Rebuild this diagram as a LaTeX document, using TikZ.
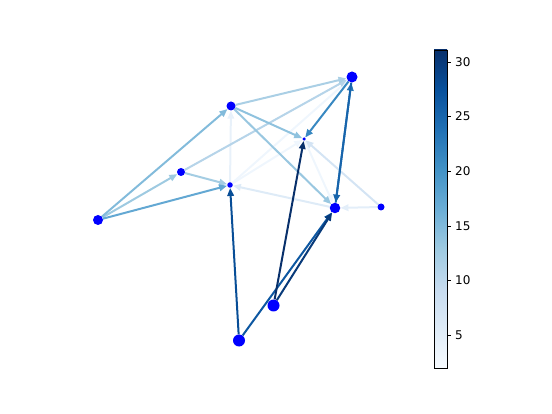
\documentclass[tikz,border=0pt]{standalone}
\usepackage{fontspec}
\setsansfont{DejaVu Sans}
\usetikzlibrary{arrows.meta,backgrounds}
\definecolor{bl0}{HTML}{F7FBFF}
\definecolor{bl1}{HTML}{DEEBF7}
\definecolor{bl2}{HTML}{C6DBEF}
\definecolor{bl3}{HTML}{9ECAE1}
\definecolor{bl4}{HTML}{6BAED6}
\definecolor{bl5}{HTML}{4292C6}
\definecolor{bl6}{HTML}{2171B5}
\definecolor{bl7}{HTML}{08519C}
\definecolor{bl8}{HTML}{08306B}
\definecolor{ndblue}{HTML}{0000FF}
\pgfdeclareverticalshading{bluesbar}{100bp}{color(0bp)=(bl0); color(25bp)=(bl0);
  color(31.25bp)=(bl1); color(37.5bp)=(bl2); color(43.75bp)=(bl3);
  color(50bp)=(bl4); color(56.25bp)=(bl5); color(62.5bp)=(bl6);
  color(68.75bp)=(bl7); color(75bp)=(bl8); color(100bp)=(bl8)}

\begin{document}
\begin{tikzpicture}[x=1pt, y=-1pt,
  vx/.style={circle, fill=ndblue, inner sep=0pt, minimum size=#1},
  edge/.style={-{Triangle[length=8pt,width=6.5pt]}, line width=2pt},
  tick/.style={font=\sffamily\fontsize{12}{14}\selectfont, anchor=west, inner sep=0pt}]
\useasboundingbox (0,0) rectangle (552,414);
% vertices
\node[vx=10pt] (A) at (98,220) {};
\node[vx=8pt] (B) at (181,172) {};
\node[vx=9pt] (C) at (231,106) {};
\node[vx=5.5pt] (D) at (230,185) {};
\node[vx=3.5pt] (E) at (304,139) {};
\node[vx=11pt] (F) at (352,77) {};
\node[vx=10.5pt] (G) at (335,208) {};
\node[vx=7pt] (H) at (381,207) {};
\node[vx=12pt] (I) at (273.5,305.5) {};
\node[vx=12pt] (J) at (239,340.5) {};
% edges, coloured by weight
\begin{scope}[on background layer]
\draw[edge, bl0!70!bl1] (D) -- (E);
\draw[edge, bl0!70!bl1] (D) -- (F);
\draw[edge, bl0!70!bl1] (E) -- (G);
\draw[edge, bl1!60!bl0] (D) -- (C);
\draw[edge, bl1!80!bl0] (H) -- (G);
\draw[edge, bl1] (G) -- (D);
\draw[edge, bl1!60!bl2] (H) -- (E);
\draw[edge, bl2!60!bl3] (B) -- (F);
\draw[edge, bl3!70!bl2] (C) -- (F);
\draw[edge, bl3!85!bl2] (B) -- (D);
\draw[edge, bl3] (A) -- (B);
\draw[edge, bl3!90!bl4] (C) -- (G);
\draw[edge, bl3!70!bl4] (C) -- (E);
\draw[edge, bl3!45!bl4] (A) -- (C);
\draw[edge, bl4!80!bl5] (A) -- (D);
\draw[edge, bl5!70!bl6] (F) -- (E);
\draw[edge, bl6!80!bl5] (G) -- (F);
\draw[edge, bl6!60!bl7] (F) -- (G);
\draw[edge, bl7!80!bl6] (J) -- (G);
\draw[edge, bl7!90!bl8] (J) -- (D);
\draw[edge, bl8!70!bl7] (I) -- (G);
\draw[edge, bl8] (I) -- (E);
\end{scope}
% colour bar
\shade[shading=bluesbar] (434,50) rectangle (447,368);
\draw[line width=0.8pt] (434,50) rectangle (447,368);
\foreach \v in {5,10,...,30} {
  \pgfmathsetmacro\yy{368-(\v-2)*10.93}
  \draw[line width=0.8pt] (447,\yy) -- (451,\yy);
  \node[tick] (t\v) at (455,\yy) {\v};
}
\end{tikzpicture}
\end{document}
